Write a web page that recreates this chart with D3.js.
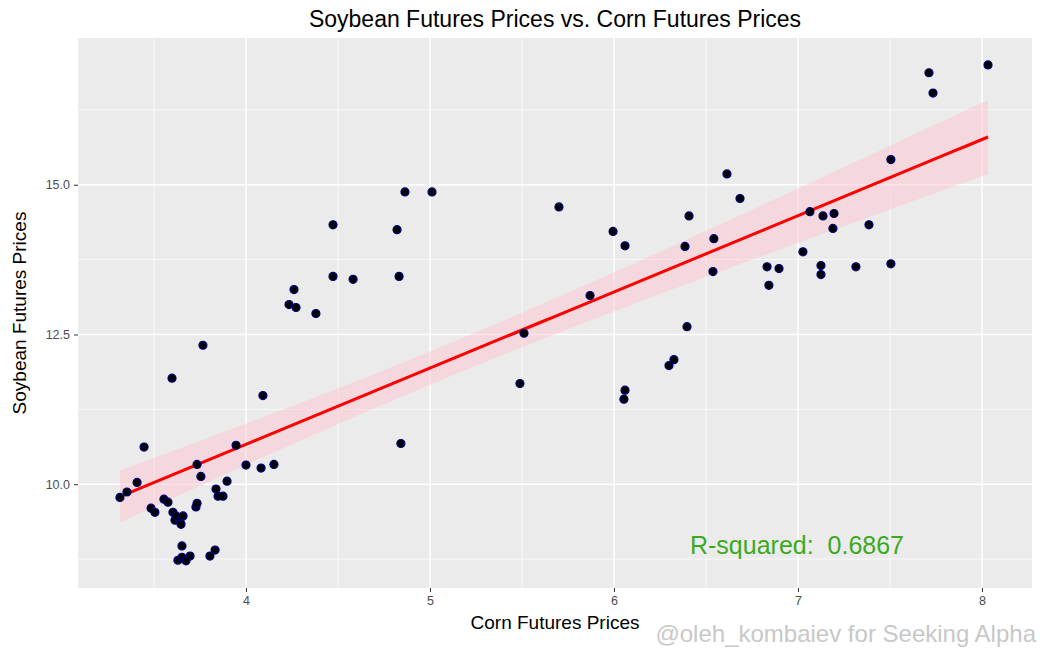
<!DOCTYPE html><html><head><script src="https://cdn.jsdelivr.net/npm/d3@7"></script>
<style>body{margin:0;background:#fff}text{font-family:"Liberation Sans",Arial,sans-serif}</style></head><body><svg id="c" width="1044" height="655"></svg><script>
const corn=[3.315,3.353,3.408,3.446,3.484,3.505,3.554,3.576,3.598,3.603,3.614,3.620,3.641,3.630,3.652,3.658,3.647,3.652,3.674,3.696,3.728,3.734,3.734,3.755,3.766,3.804,3.832,3.837,3.848,3.875,3.897,3.946,4.0,4.082,4.092,4.152,4.234,4.261,4.272,4.380,4.473,4.473,4.582,4.821,4.832,4.842,4.864,5.011,5.489,5.511,5.701,5.870,5.995,6.054,6.060,6.060,6.299,6.326,6.386,6.397,6.408,6.538,6.543,6.614,6.685,6.832,6.842,6.897,7.027,7.065,7.125,7.125,7.136,7.190,7.196,7.315,7.386,7.505,7.505,7.712,7.734,8.033];
const soy=[9.78,9.87,10.03,10.62,9.60,9.53,9.75,9.70,11.77,9.53,9.40,9.47,9.40,8.73,8.78,9.47,9.33,8.97,8.72,8.80,9.62,10.33,9.68,10.13,12.32,8.80,8.90,9.92,9.80,9.80,10.05,10.65,10.32,10.27,11.48,10.33,13.0,13.25,12.95,12.85,14.33,13.47,13.42,14.25,13.47,10.68,14.88,14.88,11.68,12.52,14.63,13.15,14.22,11.42,11.57,13.98,11.98,12.08,13.97,12.63,14.48,13.55,14.10,15.18,14.77,13.63,13.32,13.60,13.88,14.55,13.65,13.50,14.48,14.27,14.52,13.63,14.33,15.42,13.68,16.87,16.53,17.0];
const xTicks=[4,5,6,7,8], yTicks=[10.0,12.5,15.0];
const xMinor=[3.5,4.5,5.5,6.5,7.5], yMinor=[8.75,11.25,13.75,16.25];
const rsqLabel="R-squared:  0.6867";
const L=78,R=1032,T=38,B=588;
const svg=d3.select("#c");
const x=d3.scaleLinear().domain([3.087,8.272]).range([L,R]);
const y=d3.scaleLinear().domain([8.267,17.45]).range([B,T]);
svg.append("rect").attr("x",L).attr("y",T).attr("width",R-L).attr("height",B-T).attr("fill","#EBEBEB");
const g=svg.append("g");
xMinor.forEach(v=>g.append("line").attr("x1",x(v)).attr("x2",x(v)).attr("y1",T).attr("y2",B).attr("stroke","#fff").attr("stroke-width",0.7));
yMinor.forEach(v=>g.append("line").attr("y1",y(v)).attr("y2",y(v)).attr("x1",L).attr("x2",R).attr("stroke","#fff").attr("stroke-width",0.7));
xTicks.forEach(v=>g.append("line").attr("x1",x(v)).attr("x2",x(v)).attr("y1",T).attr("y2",B).attr("stroke","#fff").attr("stroke-width",1.5));
yTicks.forEach(v=>g.append("line").attr("y1",y(v)).attr("y2",y(v)).attr("x1",L).attr("x2",R).attr("stroke","#fff").attr("stroke-width",1.5));
const n=corn.length,mx=d3.mean(corn),my=d3.mean(soy);
let sxx=0,sxy=0;corn.forEach((c,i)=>{sxx+=(c-mx)**2;sxy+=(c-mx)*(soy[i]-my);});
const b=sxy/sxx,a=my-b*mx;
let sse=0;corn.forEach((c,i)=>{sse+=(soy[i]-a-b*c)**2;});
const s=Math.sqrt(sse/(n-2)),tq=1.99;
const xs=d3.range(0,81).map(i=>d3.min(corn)+(d3.max(corn)-d3.min(corn))*i/80);
const band=xs.map(v=>{const f=a+b*v,se=s*Math.sqrt(1/n+(v-mx)**2/sxx);return{v,lo:f-tq*se,hi:f+tq*se,f};});
svg.append("path").datum(band).attr("d",d3.area().x(d=>x(d.v)).y0(d=>y(d.lo)).y1(d=>y(d.hi))).attr("fill","#FFC0CB").attr("opacity",0.45);
svg.append("path").datum(band).attr("d",d3.line().x(d=>x(d.v)).y(d=>y(d.f))).attr("fill","none").attr("stroke","#FF0000").attr("stroke-width",3);
svg.append("g").selectAll("circle").data(corn).join("circle").attr("cx",d=>x(d)).attr("cy",(d,i)=>y(soy[i])).attr("r",4).attr("fill","#000").attr("stroke","#000080").attr("stroke-width",1.2);
const xa=svg.append("g").attr("transform",`translate(0,${B})`).call(d3.axisBottom(x).tickValues(xTicks).tickFormat(d3.format("d")).tickSize(4).tickPadding(4));
const ya=svg.append("g").attr("transform",`translate(${L},0)`).call(d3.axisLeft(y).tickValues(yTicks).tickFormat(d3.format(".1f")).tickSize(4).tickPadding(4));
[xa,ya].forEach(ax=>{ax.select(".domain").remove();ax.selectAll("line").attr("stroke","#333");ax.selectAll("text").attr("fill","#4D4D4D").style("font-size","12.5px");});
svg.append("text").attr("x",(L+R)/2).attr("y",27).attr("text-anchor","middle").style("font-size","23px").attr("fill","#000").text("Soybean Futures Prices vs. Corn Futures Prices");
svg.append("text").attr("x",(L+R)/2).attr("y",629).attr("text-anchor","middle").style("font-size","19px").text("Corn Futures Prices");
svg.append("text").attr("transform",`translate(26,${(T+B)/2}) rotate(-90)`).attr("text-anchor","middle").style("font-size","19px").text("Soybean Futures Prices");
svg.append("text").attr("x",797).attr("y",554).attr("text-anchor","middle").style("font-size","25px").style("white-space","pre").attr("fill","#3DAA1E").text(rsqLabel);
svg.append("text").attr("x",1036).attr("y",642).attr("text-anchor","end").style("font-size","24px").attr("fill","#C8C8C8").text("@oleh_kombaiev for Seeking Alpha");
</script></body></html>
